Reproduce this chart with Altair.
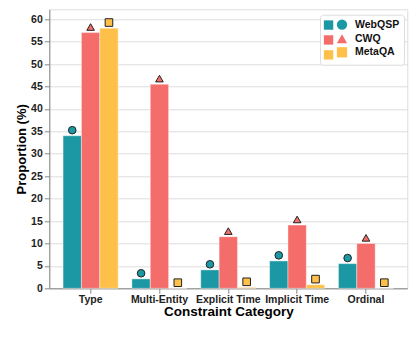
import altair as alt
import pandas as pd

categories = ["Type", "Multi-Entity", "Explicit Time", "Implicit Time", "Ordinal"]
datasets = ["WebQSP", "CWQ", "MetaQA"]
webqsp = [34.0, 2.1, 4.1, 6.1, 5.5]
cwq = [57.0, 45.5, 11.5, 14.1, 10.0]
metaqa = [58.0, 0.0, 0.2, 0.8, 0.0]
y_ticks = [0, 5, 10, 15, 20, 25, 30, 35, 40, 45, 50, 55, 60]

colors = ["#1b98a3", "#f46d6a", "#ffc04a"]
shapes = ["circle", "triangle-up", "square"]

series = {"WebQSP": webqsp, "CWQ": cwq, "MetaQA": metaqa}
rows = []
for ds in datasets:
    for cat, v in zip(categories, series[ds]):
        rows.append({"category": cat, "dataset": ds, "ds2": ds, "value": v})
df = pd.DataFrame(rows)

FONT = "Liberation Sans"

x = alt.X(
    "category:N",
    sort=categories,
    scale=alt.Scale(paddingInner=0.2, paddingOuter=0.2),
    axis=alt.Axis(
        title="Constraint Category",
        labelAngle=0,
        grid=False,
        titleFontSize=13.5,
        titlePadding=0,
        labelPadding=1,
        labelFont=FONT,
        labelFontWeight="bold",
        labelFontSize=10.5,
        labelColor="#222222",
    ),
)
xoff = alt.XOffset(
    "dataset:N", sort=datasets, scale=alt.Scale(paddingInner=0, paddingOuter=0)
)
y = alt.Y(
    "value:Q",
    scale=alt.Scale(domain=[0, 62.2], nice=False, zero=True),
    axis=alt.Axis(
        title="Proportion (%)",
        values=y_ticks,
        grid=True,
        titleFontSize=13,
        titlePadding=2,
        labelPadding=2,
        labelFont=FONT,
        labelFontWeight="bold",
        labelFontSize=10.5,
        labelColor="#222222",
    ),
)

bar_legend = alt.Legend(
    orient="none",
    legendX=274,
    legendY=10.5,
    title=None,
    symbolType="square",
    symbolSize=88,
    symbolStrokeWidth=0,
    labelExpr="''",
    labelFontSize=10.5,
    rowPadding=3.9,
    padding=0,
    zindex=5,
)

bars = (
    alt.Chart(df)
    .mark_bar(stroke="white", strokeWidth=0.8, strokeOpacity=0.5, opacity=1)
    .encode(
        x=x,
        xOffset=xoff,
        y=y,
        fill=alt.Fill(
            "dataset:N",
            sort=datasets,
            scale=alt.Scale(range=colors),
            legend=bar_legend,
        ),
    )
)

marker_legend = alt.Legend(
    orient="none",
    legendX=270.7,
    legendY=5.4,
    title=None,
    symbolSize=105,
    symbolOpacity=1,
    symbolStrokeColor="#222222",
    symbolStrokeWidth=1.2,
    symbolOffset=12,
    labelFontSize=10.5,
    labelFont=FONT,
    labelFontWeight="bold",
    labelColor="#111",
    labelOffset=7,
    rowPadding=-1.4,
    padding=4,
    strokeColor="#dddddd",
    fillColor="white",
    cornerRadius=3,
    zindex=1,
)

markers = (
    alt.Chart(df)
    .mark_point(
        filled=True, stroke="#222", strokeWidth=1, size=58, opacity=1, yOffset=-5.6
    )
    .encode(
        x=x,
        xOffset=xoff,
        y=y,
        color=alt.Color(
            "ds2:N",
            scale=alt.Scale(domain=datasets, range=colors),
            legend=marker_legend,
        ),
        shape=alt.Shape(
            "ds2:N",
            scale=alt.Scale(domain=datasets, range=shapes),
            legend=marker_legend,
        ),
    )
)

chart = (
    alt.layer(bars, markers)
    .properties(
        width=358,
        height=279,
        autosize=alt.AutoSizeParams(type="none"),
        padding={"left": 41.3, "top": 1.3, "right": 4.7, "bottom": 65.7},
    )
    .configure_view(stroke="#444444", strokeWidth=1.3)
    .configure_axis(
        labelFont=FONT,
        labelFontSize=10.5,
        labelFontWeight="bold",
        labelColor="#222222",
        titleFont=FONT,
        titleFontWeight="bold",
        titleColor="#111111",
        domainColor="#444444",
        domainWidth=1.3,
        tickColor="#444444",
        tickSize=3.5,
        tickWidth=1,
        gridColor="#e0e0e0",
        gridWidth=1,
    )
    .configure(background="white")
)

chart.save("out.html", embed_options={"renderer": "svg", "actions": False})
